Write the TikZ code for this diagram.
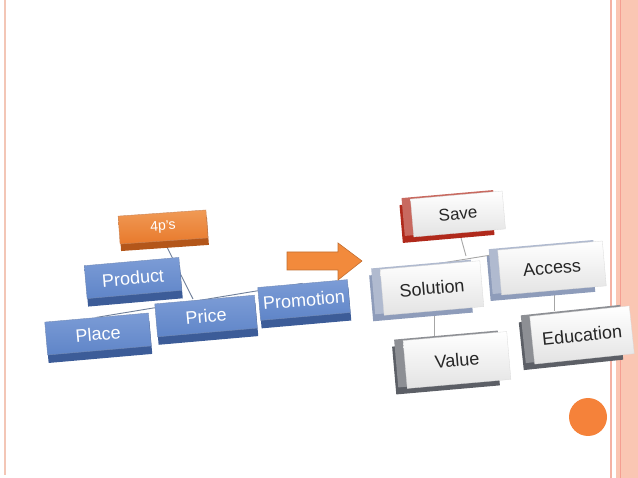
\documentclass[tikz,border=0pt]{standalone}
\usepackage{fontspec}
\setmainfont{Liberation Sans}
\usetikzlibrary{shadows,backgrounds,calc}
\definecolor{boxblue}{HTML}{5F85C8}
\definecolor{boxblueL}{HTML}{7C9CD6}
\definecolor{boxblueD}{HTML}{3C5C98}
\definecolor{boxor}{HTML}{E8792C}
\definecolor{boxorL}{HTML}{F09A55}
\definecolor{boxorD}{HTML}{B3561A}
\definecolor{frred}{HTML}{B0291B}
\definecolor{frblue}{HTML}{8E9CBA}
\definecolor{frgray}{HTML}{5C5F66}
\definecolor{bord}{HTML}{F3C6B6}
\definecolor{bordfill}{HTML}{FAC6B3}
\definecolor{arrowor}{HTML}{F28A3C}
\definecolor{dotor}{HTML}{F5823A}
\definecolor{linec}{HTML}{6F7F99}
\tikzset{
  bluebox/.style={rectangle, minimum width=#1, minimum height=33pt, inner sep=0pt,
    top color=boxblueL, bottom color=boxblue, draw=boxblueD!70, line width=0.4pt,
    text=white, font=\fontsize{18}{18}\selectfont, rotate=5,
    general shadow={fill=boxblueD, shadow xshift=1pt, shadow yshift=-8pt}},
  orbox/.style={rectangle, minimum width=88pt, minimum height=28pt, inner sep=0pt,
    top color=boxorL, bottom color=boxor, draw=boxorD!70, line width=0.4pt,
    text=white, font=\fontsize{14}{14}\selectfont, rotate=4,
    general shadow={fill=boxorD, shadow xshift=1pt, shadow yshift=-7pt}},
  facebox/.style 2 args={rectangle, minimum width=#1, minimum height=#2, inner sep=0pt,
    top color=white, bottom color=gray!22, draw=gray!30, line width=0.3pt,
    text=black!85, font=\fontsize{18}{18}\selectfont, rotate=5},
  frame/.style={general shadow={fill=#1, shadow xshift=-11pt, shadow yshift=-6pt},
    general shadow={fill=#1!70!white, shadow xshift=-9pt, shadow yshift=1pt}},
  conn/.style={draw=linec, line width=0.9pt},
  connR/.style={draw=gray!70, line width=0.9pt}
}
\begin{document}
\begin{tikzpicture}[x=1pt,y=-1pt]
\useasboundingbox (0,0) rectangle (638,478);
% borders
\draw[bord, line width=2pt] (5,0) -- (5,475);
\draw[bord!90!red, line width=1.2pt] (611,0) -- (611,478);
\fill[bordfill] (616,0) rectangle (638,478);
\draw[bord!80!red, line width=1pt] (620,0) -- (620,478);

% left diagram
\node[orbox] (fourp) at (163,227) {4p's};
\node[bluebox=95pt] (product) at (133,278) {Product};
\node[bluebox=104pt] (place) at (98,334) {Place};
\node[bluebox=100pt] (price) at (206,316) {Price};
\node[bluebox=90pt] (promo) at (304,300) {Promotion};
\coordinate (hubL) at (193,299);
\begin{pgfonlayer}{background}
  \draw[conn] (fourp.south) -- (hubL);
  \draw[conn] (place.north) -- (promo.north);
\end{pgfonlayer}

% arrow
\fill[arrowor, draw=arrowor!80!black, line width=0.6pt]
  (287,252) -- (338,252) -- (338,243) -- (362,261) -- (338,280) -- (338,270) -- (287,270) -- cycle;

% right diagram
\node[facebox={92pt}{38pt}, frame=frred, font=\fontsize{17}{17}\selectfont] (save) at (458,214) {Save};
\node[facebox={100pt}{46pt}, frame=frblue] (soln) at (432,288) {Solution};
\node[facebox={105pt}{45pt}, frame=frblue] (access) at (552,268) {Access};
\node[facebox={104pt}{48pt}, frame=frgray] (value) at (457,360) {Value};
\node[facebox={100pt}{48pt}, frame=frgray, rotate=1] (educ) at (582,335) {Education};
\coordinate (hubR) at (466,256);
\begin{pgfonlayer}{background}
  \draw[connR] (save.south) -- (hubR);
  \draw[connR] (soln.north) -- (access.north);
  \draw[connR] (soln.south) -- (soln.south |- value.north);
  \draw[connR] (access.south) -- (access.south |- educ.north);
\end{pgfonlayer}

% dot
\fill[dotor] (588,417) circle (19);
\end{tikzpicture}
\end{document}
